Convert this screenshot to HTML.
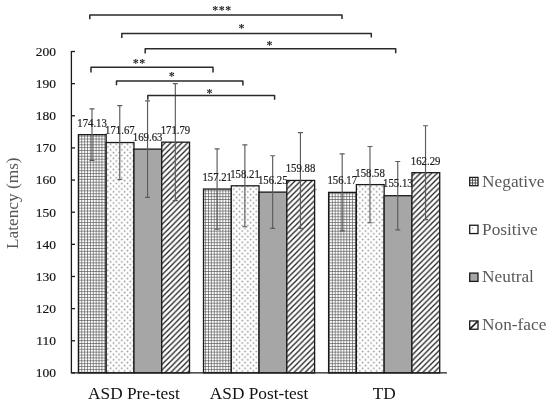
<!DOCTYPE html>
<html><head><meta charset="utf-8"><title>Latency chart</title>
<style>
html,body{margin:0;padding:0;background:#fff;}
body{width:550px;height:406px;overflow:hidden;}
svg{display:block;}
text{font-family:"Liberation Serif","Times New Roman",serif;}
.yt{font-size:13.5px;fill:#111;stroke:#111;stroke-width:0.15;text-anchor:end;}
.xl{font-size:17.3px;fill:#111;text-anchor:middle;}
.dl{font-size:12px;fill:#1c1c1c;stroke:#1c1c1c;stroke-width:0.2;text-anchor:middle;}
.lg{font-size:17.3px;fill:#595959;}
.st{font-size:12px;fill:#222;text-anchor:middle;font-weight:bold;letter-spacing:0.5px;}
.bar{stroke:#1a1a1a;stroke-width:1.3;}
.eb{stroke:#5c5c5c;stroke-width:1.15;fill:none;}
.br{stroke:#2a2a2a;stroke-width:1.5;fill:none;stroke-linejoin:round;}
.ax{stroke:#1a1a1a;stroke-width:1.3;fill:none;}
</style></head><body>
<svg width="550" height="406" viewBox="0 0 550 406">
<defs>
<pattern id="pg" width="2.88" height="2.88" patternUnits="userSpaceOnUse" x="78.4" y="0.3">
<rect width="2.88" height="2.88" fill="#fff"/>
<path d="M0 0.4H2.88M0.4 0V2.88" stroke="#505050" stroke-width="0.7"/>
</pattern>
<pattern id="pd" width="5.6" height="5.6" patternUnits="userSpaceOnUse">
<rect width="5.6" height="5.6" fill="#fff"/>
<rect x="0.7" y="0.7" width="1.5" height="1.5" fill="#8c8c8c"/>
<rect x="3.5" y="3.5" width="1.5" height="1.5" fill="#8c8c8c"/>
</pattern>
<pattern id="ph" width="5.6" height="5.6" patternUnits="userSpaceOnUse">
<rect width="5.6" height="5.6" fill="#fff"/>
<path d="M-1.4 1.4L1.4 -1.4M0 5.6L5.6 0M4.2 7L7 4.2" stroke="#1a1a1a" stroke-width="1.25"/>
</pattern>
</defs>
<rect width="550" height="406" fill="#fff"/>

<rect class="bar" x="78.40" y="134.65" width="27.78" height="238.25" fill="url(#pg)"/>
<rect class="bar" x="106.18" y="142.55" width="27.78" height="230.35" fill="url(#pd)"/>
<rect class="bar" x="133.96" y="149.11" width="27.78" height="223.79" fill="#a6a6a6"/>
<rect class="bar" x="161.74" y="142.17" width="27.78" height="230.73" fill="url(#ph)"/>
<rect class="bar" x="203.50" y="189.03" width="27.78" height="183.87" fill="url(#pg)"/>
<rect class="bar" x="231.28" y="185.81" width="27.78" height="187.09" fill="url(#pd)"/>
<rect class="bar" x="259.06" y="192.11" width="27.78" height="180.79" fill="#a6a6a6"/>
<rect class="bar" x="286.84" y="180.45" width="27.78" height="192.45" fill="url(#ph)"/>
<rect class="bar" x="328.60" y="192.37" width="27.78" height="180.53" fill="url(#pg)"/>
<rect class="bar" x="356.38" y="184.62" width="27.78" height="188.28" fill="url(#pd)"/>
<rect class="bar" x="384.16" y="195.71" width="27.78" height="177.19" fill="#a6a6a6"/>
<rect class="bar" x="411.94" y="172.70" width="27.78" height="200.20" fill="url(#ph)"/>
<path class="eb" d="M89.49 108.93H94.49M91.99 108.93V160.36M89.49 160.36H94.49"/>
<path class="eb" d="M117.27 105.59H122.27M119.77 105.59V179.51M117.27 179.51H122.27"/>
<path class="eb" d="M145.05 100.90H150.05M147.55 100.90V197.32M145.05 197.32H150.05"/>
<path class="eb" d="M172.83 83.67H177.83M175.33 83.67V200.66M172.83 200.66H177.83"/>
<path class="eb" d="M214.59 148.85H219.59M217.09 148.85V229.20M214.59 229.20H219.59"/>
<path class="eb" d="M242.37 144.83H247.37M244.87 144.83V226.79M242.37 226.79H247.37"/>
<path class="eb" d="M270.15 155.79H275.15M272.65 155.79V228.43M270.15 228.43H275.15"/>
<path class="eb" d="M297.93 132.56H302.93M300.43 132.56V228.33M297.93 228.33H302.93"/>
<path class="eb" d="M339.69 153.80H344.69M342.19 153.80V230.94M339.69 230.94H344.69"/>
<path class="eb" d="M367.47 146.54H372.47M369.97 146.54V222.71M367.47 222.71H372.47"/>
<path class="eb" d="M395.25 161.48H400.25M397.75 161.48V229.94M395.25 229.94H400.25"/>
<path class="eb" d="M423.03 125.78H428.03M425.53 125.78V219.62M423.03 219.62H428.03"/>
<text class="dl" x="92.09" y="127.05" textLength="29.6" lengthAdjust="spacingAndGlyphs">174.13</text>
<text class="dl" x="119.87" y="134.45" textLength="29.6" lengthAdjust="spacingAndGlyphs">171.67</text>
<text class="dl" x="147.65" y="140.71" textLength="29.6" lengthAdjust="spacingAndGlyphs">169.63</text>
<text class="dl" x="175.43" y="133.57" textLength="29.6" lengthAdjust="spacingAndGlyphs">171.79</text>
<text class="dl" x="217.19" y="181.13" textLength="29.6" lengthAdjust="spacingAndGlyphs">157.21</text>
<text class="dl" x="244.97" y="178.31" textLength="29.6" lengthAdjust="spacingAndGlyphs">158.21</text>
<text class="dl" x="272.75" y="184.41" textLength="29.6" lengthAdjust="spacingAndGlyphs">156.25</text>
<text class="dl" x="300.53" y="172.25" textLength="29.6" lengthAdjust="spacingAndGlyphs">159.88</text>
<text class="dl" x="342.29" y="183.97" textLength="29.6" lengthAdjust="spacingAndGlyphs">156.17</text>
<text class="dl" x="370.07" y="176.52" textLength="29.6" lengthAdjust="spacingAndGlyphs">158.58</text>
<text class="dl" x="397.85" y="187.01" textLength="29.6" lengthAdjust="spacingAndGlyphs">155.13</text>
<text class="dl" x="425.63" y="164.70" textLength="29.6" lengthAdjust="spacingAndGlyphs">162.29</text>
<path class="ax" d="M71.4 50.90V372.9H446.9"/>
<path class="ax" d="M71.4 372.90h3.6"/>
<text class="yt" x="56.0" y="377.20">100</text>
<path class="ax" d="M71.4 340.76h3.6"/>
<text class="yt" x="56.0" y="345.06">110</text>
<path class="ax" d="M71.4 308.62h3.6"/>
<text class="yt" x="56.0" y="312.92">120</text>
<path class="ax" d="M71.4 276.48h3.6"/>
<text class="yt" x="56.0" y="280.78">130</text>
<path class="ax" d="M71.4 244.34h3.6"/>
<text class="yt" x="56.0" y="248.64">140</text>
<path class="ax" d="M71.4 212.20h3.6"/>
<text class="yt" x="56.0" y="216.50">150</text>
<path class="ax" d="M71.4 180.06h3.6"/>
<text class="yt" x="56.0" y="184.36">160</text>
<path class="ax" d="M71.4 147.92h3.6"/>
<text class="yt" x="56.0" y="152.22">170</text>
<path class="ax" d="M71.4 115.78h3.6"/>
<text class="yt" x="56.0" y="120.08">180</text>
<path class="ax" d="M71.4 83.64h3.6"/>
<text class="yt" x="56.0" y="87.94">190</text>
<path class="ax" d="M71.4 51.50h3.6"/>
<text class="yt" x="56.0" y="55.80">200</text>
<text class="xl" x="133.96" y="399">ASD Pre-test</text>
<text class="xl" x="259.06" y="399">ASD Post-test</text>
<text class="xl" x="384.16" y="399">TD</text>
<text transform="translate(17.8 203.2) rotate(-90)" text-anchor="middle" style="font-size:17.3px;fill:#595959">Latency (ms)</text>
<g>
<rect x="469.7" y="177.39999999999998" width="8.3" height="8.3" fill="#fff" stroke="#1a1a1a" stroke-width="1.3"/>
<path d="M472.5 177.39999999999998v8.3M475.3 177.39999999999998v8.3M469.7 180.2h8.3M469.7 182.99999999999997h8.3" stroke="#333" stroke-width="0.8"/>
<text class="lg" x="482.1" y="186.7">Negative</text></g>
<g>
<rect x="469.7" y="225.24999999999997" width="8.3" height="8.3" fill="#fff" stroke="#1a1a1a" stroke-width="1.3"/>
<rect x="471.9" y="227.84999999999997" width="1.1" height="1.1" fill="#9a9a9a"/>
<text class="lg" x="482.1" y="234.5">Positive</text></g>
<g>
<rect x="469.7" y="273.09999999999997" width="8.3" height="8.3" fill="#a6a6a6" stroke="#1a1a1a" stroke-width="1.3"/>
<text class="lg" x="482.1" y="282.4">Neutral</text></g>
<g>
<rect x="469.7" y="320.95" width="8.3" height="8.3" fill="#fff" stroke="#1a1a1a" stroke-width="1.3"/>
<path d="M470.00 328.95L477.70 321.25" stroke="#1a1a1a" stroke-width="1.7"/>
<text class="lg" x="482.1" y="330.2">Non-face</text></g>
<path class="br" d="M89.8 19.3V15.0H342.0V19.0"/>
<text class="st" x="222.1" y="13.8">***</text>
<path class="br" d="M121.8 37.9V33.6H371.3V37.4"/>
<text class="st" x="241.8" y="31.7">*</text>
<path class="br" d="M145.2 53.4V48.8H395.7V53.199999999999996"/>
<text class="st" x="269.7" y="48.5">*</text>
<path class="br" d="M91.0 72.5V67.3H213.0V72.6"/>
<text class="st" x="139.3" y="66.9">**</text>
<path class="br" d="M116.5 85.2V81.0H242.9V85.5"/>
<text class="st" x="172.0" y="80.1">*</text>
<path class="br" d="M147.8 99.8V95.6H274.6V99.8"/>
<text class="st" x="209.8" y="97.2">*</text>
<circle cx="315.8" cy="189.6" r="0.9" fill="#8a8a8a"/>
</svg></body></html>
